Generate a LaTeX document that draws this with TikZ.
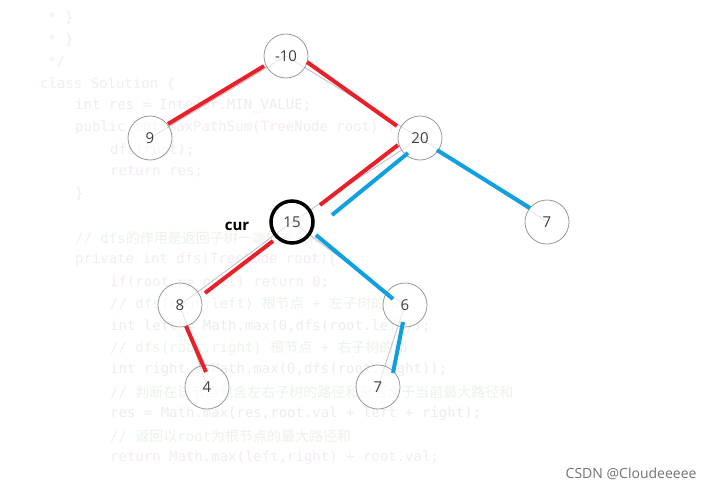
\documentclass[tikz,border=0pt]{standalone}
\usepackage{fontspec}
\setmainfont{Open Sans}
\setmonofont{DejaVu Sans Mono}
\newfontfamily\cjk{Noto Sans CJK SC}
\definecolor{hred}{HTML}{E8202A}
\definecolor{hblue}{HTML}{10A0E0}
\begin{document}
\begin{tikzpicture}[x=1pt,y=-1pt,
  tn/.style={circle,draw=gray!80,line width=0.8pt,fill=white,fill opacity=0.6,text opacity=1,minimum size=44pt,inner sep=0pt,font=\fontsize{15}{15}\selectfont,text=black!75},
  edge/.style={draw=gray!50,line width=0.8pt},
  redl/.style={draw=hred,line width=4pt},
  bluel/.style={draw=hblue,line width=4pt},
  code/.style={anchor=west,inner sep=0pt,font=\ttfamily\fontsize{14}{14}\selectfont,text=black!7},
  kw/.style={code,text=violet!8},
  cmt/.style={code,text=green!40!black!8}]
\useasboundingbox (0,0) rectangle (714,493);
\fill[white] (0,0) rectangle (714,493);
% background code
\node[code] (c1) at (48,18) {*     \}};
\node[code] (c2) at (48,40) {* \}};
\node[code] (c3) at (48,62) {*/};
\node[kw] (c4) at (40,84) {class Solution \{};
\node[code] (c5) at (75,106) {int res = Integer.MIN\_VALUE;};
\node[kw] (c6) at (75,128) {public int maxPathSum(TreeNode root) \{};
\node[code] (c7) at (110,150) {dfs(root);};
\node[kw] (c8) at (110,172) {return res;};
\node[code] (c9) at (75,194) {\}};
\node[cmt] (c10) at (75,238) {// dfs{\cjk 的作用是返回子树一端的最大和}};
\node[kw] (c11) at (75,260) {private int dfs(TreeNode root)\{};
\node[kw] (c12) at (110,282) {if(root == null) return 0;};
\node[cmt] (c13) at (110,304) {// dfs(root.left) {\cjk 根节点} + {\cjk 左子树的和}};
\node[code] (c14) at (110,326) {int left = Math.max(0,dfs(root.left));};
\node[cmt] (c15) at (110,348) {// dfs(root.right) {\cjk 根节点} + {\cjk 右子树的和}};
\node[code] (c16) at (110,370) {int right = Math.max(0,dfs(root.right));};
\node[cmt] (c17) at (110,392) {// {\cjk 判断在该节点包含左右子树的路径和是否大于当前最大路径和}};
\node[code] (c18) at (110,414) {res = Math.max(res,root.val + left + right);};
\node[cmt] (c19) at (110,436) {// {\cjk 返回以}root{\cjk 为根节点的最大路径和}};
\node[kw] (c20) at (110,458) {return Math.max(left,right) + root.val;};
% tree
\coordinate (pa) at (286,56);
\coordinate (pb) at (150,138);
\coordinate (pc) at (420,138);
\coordinate (pd) at (292,222);
\coordinate (pe) at (547,222);
\coordinate (pf) at (180,305);
\coordinate (pg) at (405,305);
\coordinate (ph) at (207,387);
\coordinate (pi) at (378,387);
\draw[edge] (pa)--(pb) (pa)--(pc) (pc)--(pd) (pc)--(pe) (pd)--(pf) (pd)--(pg) (pf)--(ph) (pg)--(pi);
\node[tn] (a) at (pa) {-10};
\node[tn] (b) at (pb) {9};
\node[tn] (c) at (pc) {20};
\node[tn] (e) at (pe) {7};
\node[tn] (f) at (pf) {8};
\node[tn] (g) at (pg) {6};
\node[tn] (h) at (ph) {4};
\node[tn] (i) at (pi) {7};
\node[tn,draw=black,line width=3.5pt,minimum size=42pt] (d) at (pd) {15};
\node[font=\fontsize{15}{15}\selectfont\bfseries] (cur) at (237,226) {cur};
% highlight strokes
\coordinate (r1a) at (168,124); \coordinate (r1b) at (264,66);
\coordinate (r2a) at (307,62); \coordinate (r2b) at (397,126);
\coordinate (r3a) at (398,145); \coordinate (r3b) at (320,205);
\coordinate (b1a) at (408,153); \coordinate (b1b) at (332,215);
\coordinate (b2a) at (437,150); \coordinate (b2b) at (530,208);
\coordinate (r4a) at (273,241); \coordinate (r4b) at (205,293);
\coordinate (b3a) at (316,235); \coordinate (b3b) at (393,299);
\coordinate (r5a) at (186,326); \coordinate (r5b) at (206,372);
\coordinate (b4a) at (403,322); \coordinate (b4b) at (393,373);
\draw[redl] (r1a)--(r1b);
\draw[redl] (r2a)--(r2b);
\draw[redl] (r3a)--(r3b);
\draw[redl] (r4a)--(r4b);
\draw[redl] (r5a)--(r5b);
\draw[bluel] (b1a)--(b1b);
\draw[bluel] (b2a)--(b2b);
\draw[bluel] (b3a)--(b3b);
\draw[bluel] (b4a)--(b4b);
\node[anchor=east,text=black!55,font=\fontsize{14}{14}\selectfont] (wm) at (700,474) {CSDN @Cloudeeeee};
\end{tikzpicture}
\end{document}
